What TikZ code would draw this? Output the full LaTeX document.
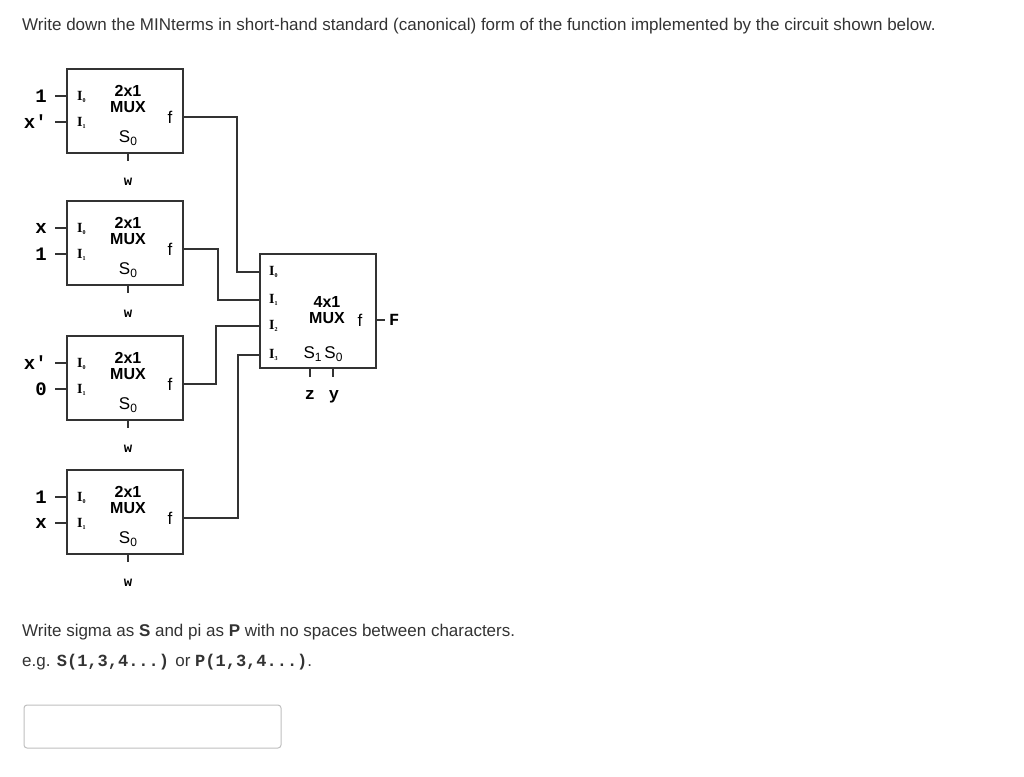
\documentclass[tikz,border=0pt]{standalone}
\usepackage{fontspec}
\setmainfont{Liberation Sans}
\newfontfamily\monof{Liberation Mono}
\newfontfamily\serf{Liberation Serif}
\begin{document}
\begin{tikzpicture}[x=1pt,y=-1pt,
  wire/.style={line width=1.6pt,color=black!80},
  box/.style={draw=black!80,line width=1.6pt},
  inlab/.style={font=\fontsize{19}{20}\selectfont\monof\bfseries,anchor=east,inner sep=0},
  pin/.style={font=\fontsize{14}{16}\selectfont\serf\bfseries,anchor=west,inner sep=0},
  mx/.style={font=\fontsize{16}{18}\selectfont\bfseries,align=center,inner sep=0},
  txt/.style={font=\fontsize{17}{20}\selectfont,color=black!80,anchor=west,inner sep=0}]
\useasboundingbox (0,0) rectangle (1024,776);
\node[txt] (title) at (22,26) {Write down the MINterms in short-hand standard (canonical) form of the function implemented by the circuit shown below.};
% 2x1 muxes
\foreach \i/\t/\a/\b in {1/69/1/x',2/201/x/1,3/336/x'/0,4/470/1/x}{
  \draw[box] (67,\t) rectangle (183,\t+84);
  \node[mx] (m\i) at (128,\t+30) {2x1\\[-2pt]MUX};
  \node[pin] (p0\i) at (77,\t+28) {I\raisebox{-2pt}{\fontsize{6}{6}\selectfont 0}};
  \node[pin] (p1\i) at (77,\t+54) {I\raisebox{-2pt}{\fontsize{6}{6}\selectfont 1}};
  \node[font=\fontsize{17}{18}\selectfont,inner sep=0] (f\i) at (170,\t+48) {f};
  \node[font=\fontsize{17}{18}\selectfont,inner sep=0] (s\i) at (128,\t+69) {S\raisebox{-3pt}{\fontsize{12}{12}\selectfont 0}};
  \node[font=\fontsize{14}{16}\selectfont\monof\bfseries,inner sep=0] (w\i) at (128,\t+113) {w};
  \draw[wire] (128,\t+84) -- (128,\t+92);
  \node[inlab] (a\i) at (47,\t+27) {\a};
  \node[inlab] (b\i) at (47,\t+53) {\b};
  \draw[wire] (55,\t+27) -- (67,\t+27);
  \draw[wire] (55,\t+53) -- (67,\t+53);
}
% 4x1 mux
\draw[box] (260,254) rectangle (376,368);
\node[mx] (m5) at (327,310) {4x1\\[-2pt]MUX};
\foreach \k/\y in {0/272,1/300,2/326,3/355}{
  \node[pin] (q\k) at (269,\y) {I\raisebox{-2pt}{\fontsize{6}{6}\selectfont \k}};
}
\node[font=\fontsize{17}{18}\selectfont,inner sep=0] (f5) at (360,320) {f};
\node[font=\fontsize{17}{18}\selectfont,inner sep=0] (s5) at (323,354) {S\raisebox{-3pt}{\fontsize{12}{12}\selectfont 1}\,S\raisebox{-3pt}{\fontsize{12}{12}\selectfont 0}};
\draw[wire] (310,368) -- (310,377);
\draw[wire] (333,368) -- (333,377);
\node[font=\fontsize{17}{18}\selectfont\monof\bfseries,inner sep=0] (z) at (310,395) {z};
\node[font=\fontsize{17}{18}\selectfont\monof\bfseries,inner sep=0] (y) at (334,397) {y};
\draw[wire] (376,320) -- (385,320);
\node[font=\fontsize{17}{18}\selectfont\monof\bfseries,inner sep=0,anchor=west] (F) at (389,320) {F};
% wires
\draw[wire] (183,117) -- (237,117) -- (237,272) -- (260,272);
\draw[wire] (183,249) -- (218,249) -- (218,300) -- (260,300);
\draw[wire] (183,384) -- (216,384) -- (216,326) -- (260,326);
\draw[wire] (183,518) -- (238,518) -- (238,355) -- (260,355);
% bottom text
\node[txt] (t1) at (22,632) {Write sigma as \textbf{S} and pi as \textbf{P} with no spaces between characters.};
\node[txt] (t2) at (22,662) {e.g. {\monof\bfseries S(1,3,4...)} or {\monof\bfseries P(1,3,4...)}.};
\draw[black!25,line width=1pt,rounded corners=3pt] (24,705) rectangle (281,748);
\end{tikzpicture}
\end{document}
